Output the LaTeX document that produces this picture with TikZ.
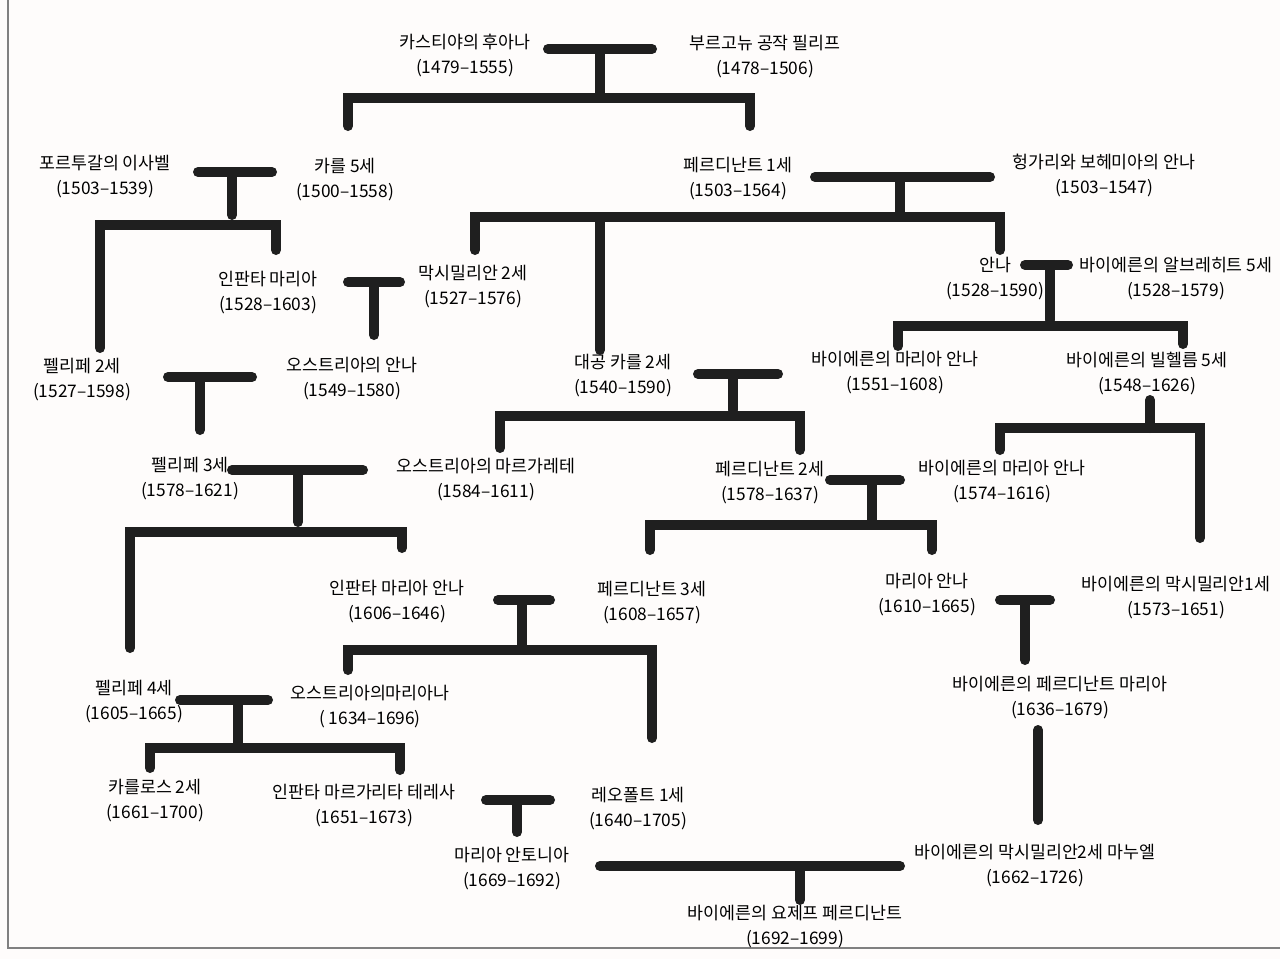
\documentclass[tikz,border=0pt]{standalone}
\usepackage{fontspec}
\setmainfont{Noto Sans CJK KR}
\begin{document}
\begin{tikzpicture}[x=1pt,y=-1pt,
  person/.style={align=center,font=\fontsize{17.3}{25}\selectfont,inner sep=0pt},
  bar/.style={line width=10pt,line cap=round,black!88}]
\fill[white!98!brown] (0,0) rectangle (1280,959);
\useasboundingbox (0,0) rectangle (1280,959);
\draw[gray,line width=1.2pt] (8,0) -- (8,948) -- (1280,948);
% people
\node[person] (p1) at (465,55) {카스티야의 후아나\\(1479–1555)};
\node[person] (p2) at (765,57) {부르고뉴 공작 필리프\\(1478–1506)};
\node[person] (p3) at (105,177) {포르투갈의 이사벨\\(1503–1539)};
\node[person] (p4) at (345,180) {카를 5세\\(1500–1558)};
\node[person] (p5) at (738,179) {페르디난트 1세\\(1503–1564)};
\node[person] (p6) at (1104,175) {헝가리와 보헤미아의 안나\\(1503–1547)};
\node[person] (p7) at (268,293) {인판타 마리아\\(1528–1603)};
\node[person] (p8) at (473,287) {막시밀리안 2세\\(1527–1576)};
\node[person] (p9) at (995,279) {안나\\(1528–1590)};
\node[person] (p10) at (1176,279) {바이에른의 알브레히트 5세\\(1528–1579)};
\node[person] (p11) at (82,380) {펠리페 2세\\(1527–1598)};
\node[person] (p12) at (352,379) {오스트리아의 안나\\(1549–1580)};
\node[person] (p13) at (623,376) {대공 카를 2세\\(1540–1590)};
\node[person] (p14) at (895,373) {바이에른의 마리아 안나\\(1551–1608)};
\node[person] (p15) at (1147,374) {바이에른의 빌헬름 5세\\(1548–1626)};
\node[person] (p16) at (486,480) {오스트리아의 마르가레테\\(1584–1611)};
\node[person] (p17) at (190,479) {펠리페 3세\\(1578–1621)};
\node[person] (p18) at (770,483) {페르디난트 2세\\(1578–1637)};
\node[person] (p19) at (1002,482) {바이에른의 마리아 안나\\(1574–1616)};
\node[person] (p20) at (397,602) {인판타 마리아 안나\\(1606–1646)};
\node[person] (p21) at (652,603) {페르디난트 3세\\(1608–1657)};
\node[person] (p22) at (927,595) {마리아 안나\\(1610–1665)};
\node[person] (p23) at (1176,598) {바이에른의 막시밀리안1세\\(1573–1651)};
\node[person] (p24) at (1060,698) {바이에른의 페르디난트 마리아\\(1636–1679)};
\node[person] (p25) at (134,702) {펠리페 4세\\(1605–1665)};
\node[person] (p26) at (370,707) {오스트리아의마리아나\\( 1634–1696)};
\node[person] (p27) at (155,801) {카를로스 2세\\(1661–1700)};
\node[person] (p28) at (364,806) {인판타 마르가리타 테레사\\(1651–1673)};
\node[person] (p29) at (638,809) {레오폴트 1세\\(1640–1705)};
\node[person] (p30) at (512,869) {마리아 안토니아\\(1669–1692)};
\node[person] (p31) at (1035,866) {바이에른의 막시밀리안2세 마누엘\\(1662–1726)};
\node[person] (p32) at (795,927) {바이에른의 요제프 페르디난트\\(1692–1699)};
% bars
\draw[bar] (548,49) -- (652,49) (600,49) -- (600,93) (348,126) -- (348,98) -- (750,98) -- (750,126);
\draw[bar] (198,172) -- (272,172) (232,172) -- (232,215) (100,348) -- (100,225) -- (276,225) -- (276,250);
\draw[bar] (815,177) -- (990,177) (900,177) -- (900,213) (475,250) -- (475,217) -- (1000,217) -- (1000,250) (600,217) -- (600,350);
\draw[bar] (348,282) -- (400,282) (374,282) -- (374,335);
\draw[bar] (1025,265) -- (1068,265) (1050,265) -- (1050,320) (898,346) -- (898,326) -- (1183,326) -- (1183,344);
\draw[bar] (168,377) -- (252,377) (200,377) -- (200,430);
\draw[bar] (698,374) -- (778,374) (733,374) -- (733,410) (500,448) -- (500,416) -- (800,416) -- (800,450);
\draw[bar] (1150,400) -- (1150,428) (1000,450) -- (1000,428) -- (1200,428) -- (1200,538);
\draw[bar] (232,470) -- (363,470) (298,470) -- (298,522) (130,648) -- (130,532) -- (402,532) -- (402,548);
\draw[bar] (830,480) -- (900,480) (872,480) -- (872,520) (650,550) -- (650,525) -- (932,525) -- (932,550);
\draw[bar] (498,600) -- (550,600) (522,600) -- (522,645) (348,670) -- (348,650) -- (652,650) -- (652,738);
\draw[bar] (1000,600) -- (1050,600) (1025,600) -- (1025,660);
\draw[bar] (1038,730) -- (1038,820);
\draw[bar] (180,700) -- (268,700) (238,700) -- (238,745) (150,768) -- (150,748) -- (400,748) -- (400,770);
\draw[bar] (486,800) -- (550,800) (517,800) -- (517,832);
\draw[bar] (600,866) -- (900,866) (800,866) -- (800,900);
\end{tikzpicture}
\end{document}
